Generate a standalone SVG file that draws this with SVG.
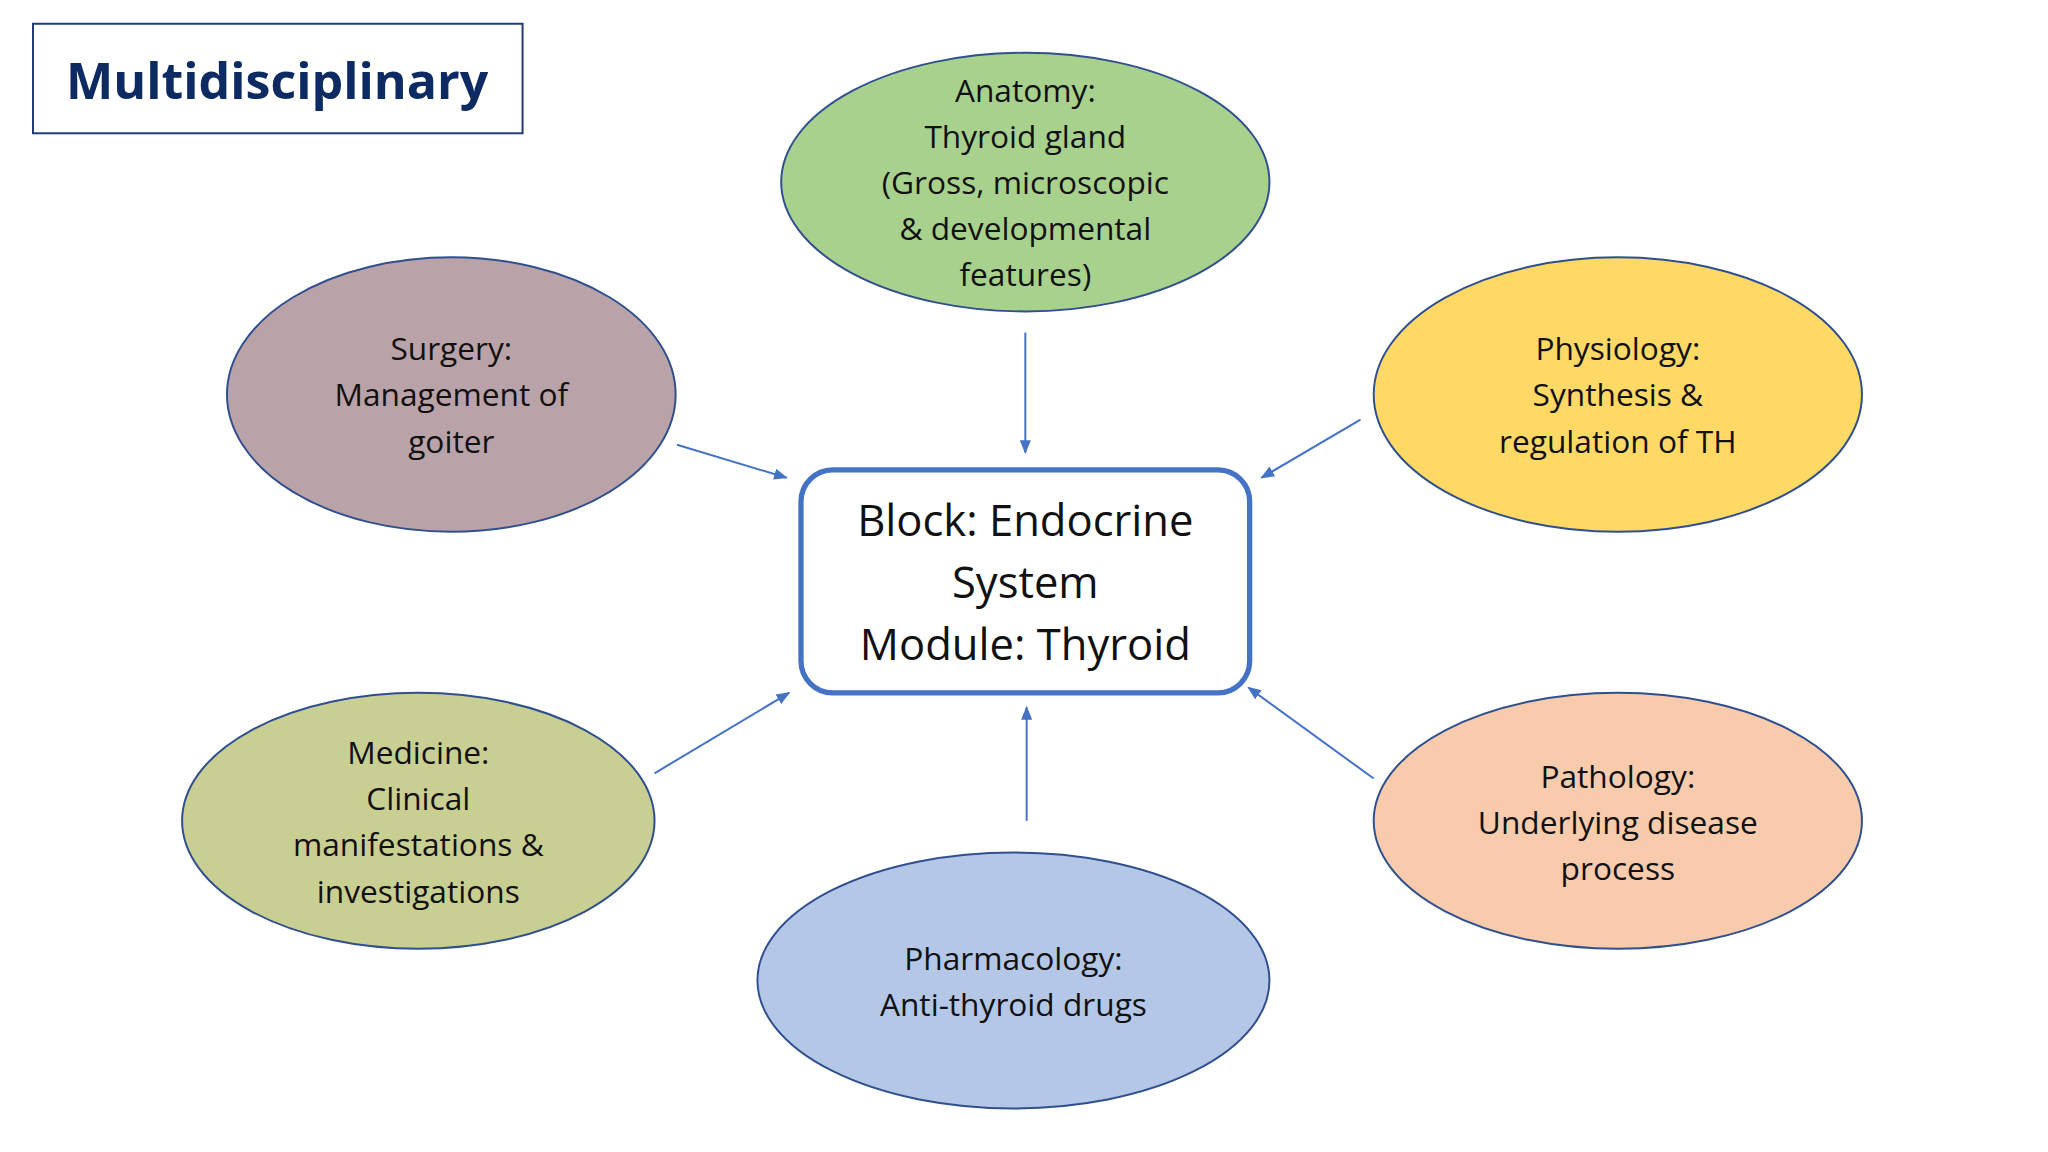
<svg xmlns="http://www.w3.org/2000/svg" width="2048" height="1152" viewBox="0 0 2048 1152">
<defs>
<style>
.e{stroke:#2f4f8f;stroke-width:1.5}
.t{font-family:"Open Sans","Noto Sans",sans-serif;font-size:24px;fill:#111;text-anchor:middle}
.c{stroke:#4472c4;stroke-width:1.5;fill:none;marker-end:url(#a)}
</style>
<marker id="a" viewBox="0 0 10 10" refX="9" refY="5" markerWidth="7" markerHeight="7" orient="auto"><path d="M0,1 L10,5 L0,9 z" fill="#4472c4"/></marker>
</defs>
<rect width="2048" height="1152" fill="#fff"/>
<g transform="scale(1.3196)">
<g id="title"><rect x="25" y="18" width="371" height="83" fill="#fff" stroke="#1f3a75" stroke-width="1.5"/>
<text x="210" y="75" style="font-family:'Open Sans','Noto Sans',sans-serif;font-size:38px;font-weight:bold;fill:#0d2a63" text-anchor="middle">Multidisciplinary</text></g>
<g id="anatomy"><ellipse class="e" cx="777" cy="138" rx="185" ry="98" fill="#a9d18e"/>
<text class="t" x="777" y="77">Anatomy:</text><text class="t" x="777" y="112">Thyroid gland</text><text class="t" x="777" y="147">(Gross, microscopic</text><text class="t" x="777" y="182">&amp; developmental</text><text class="t" x="777" y="217">features)</text></g>
<g id="surgery"><ellipse class="e" cx="342" cy="299" rx="170" ry="104" fill="#b9a3a8"/>
<text class="t" x="342" y="273">Surgery:</text><text class="t" x="342" y="308">Management of</text><text class="t" x="342" y="343">goiter</text></g>
<g id="physiology"><ellipse class="e" cx="1226" cy="299" rx="185" ry="104" fill="#ffd966"/>
<text class="t" x="1226" y="273">Physiology:</text><text class="t" x="1226" y="308">Synthesis &amp;</text><text class="t" x="1226" y="343">regulation of TH</text></g>
<g id="center"><rect x="607" y="356" width="340" height="169" rx="24" fill="#fff" stroke="#4472c4" stroke-width="4"/>
<text class="t" style="font-size:33px" x="777" y="406">Block: Endocrine</text><text class="t" style="font-size:33px" x="777" y="453">System</text><text class="t" style="font-size:33px" x="777" y="500">Module: Thyroid</text></g>
<g id="medicine"><ellipse class="e" cx="317" cy="622" rx="179" ry="97" fill="#c9cf93"/>
<text class="t" x="317" y="579">Medicine:</text><text class="t" x="317" y="614">Clinical</text><text class="t" x="317" y="649">manifestations &amp;</text><text class="t" x="317" y="684">investigations</text></g>
<g id="pathology"><ellipse class="e" cx="1226" cy="622" rx="185" ry="97" fill="#f8cbad"/>
<text class="t" x="1226" y="597">Pathology:</text><text class="t" x="1226" y="632">Underlying disease</text><text class="t" x="1226" y="667">process</text></g>
<g id="pharmacology"><ellipse class="e" cx="768" cy="743" rx="194" ry="97" fill="#b4c7e7"/>
<text class="t" x="768" y="735">Pharmacology:</text><text class="t" x="768" y="770">Anti-thyroid drugs</text></g>
<g id="connectors">
<line class="c" x1="777" y1="252" x2="777" y2="343"/>
<line class="c" x1="513" y1="337" x2="596" y2="362"/>
<line class="c" x1="1031" y1="318" x2="956" y2="362"/>
<line class="c" x1="496" y1="586" x2="598" y2="525"/>
<line class="c" x1="778" y1="622" x2="778" y2="536"/>
<line class="c" x1="1041" y1="590" x2="946" y2="521"/>
</g>
</g>
</svg>
